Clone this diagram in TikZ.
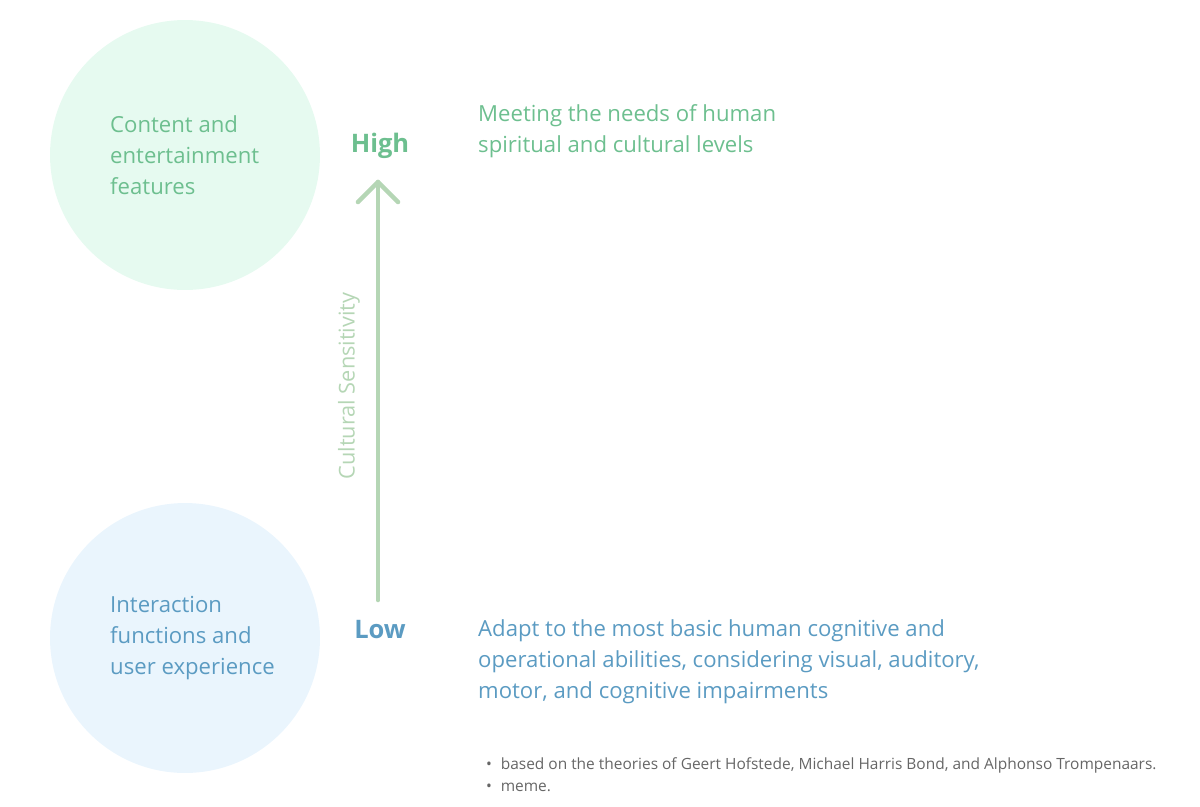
\documentclass[tikz,border=0pt]{standalone}
\usepackage{fontspec}
\setmainfont{Open Sans}
\usetikzlibrary{positioning,arrows,calc}
\definecolor{mint}{HTML}{E6FAF0}
\definecolor{skyl}{HTML}{EAF5FD}
\definecolor{grn}{HTML}{6DBF8F}
\definecolor{blu}{HTML}{5B9BC2}
\definecolor{sage}{HTML}{B5D6B5}
\tikzset{
  bub/.style={circle, minimum size=5.4cm, inner sep=0pt},
  ctxt/.style={align=left, anchor=west, font=\fontsize{12.6}{17.6}\selectfont},
  lvl/.style={font=\fontsize{14.5}{16}\selectfont\bfseries},
  note/.style={align=left, anchor=west, font=\fontsize{8.8}{12.5}\selectfont, text=black!60}
}
\begin{document}
\begin{tikzpicture}[x=0.02cm,y=-0.02cm]
	\useasboundingbox (0,0) rectangle (1200,806);
	\node[bub, fill=mint] (top) at (185,155) {};
	\node[bub, fill=skyl] (bot) at (185,638) {};
	\node[ctxt, text=grn] (topt) at (104,155) {Content and\\entertainment\\features};
	\node[ctxt, text=blu] (bott) at (104,638) {Interaction\\functions and\\user experience};
	%
	\node[lvl, text=grn] (high) at (380,146) {High};
	\node[lvl, text=blu] (low) at (380,630) {Low};
	\coordinate (arrtop) at (378,182);
	\coordinate (arrbot) at (378,600);
	\draw[sage, line width=2.6pt, line cap=round, line join=round] (arrbot) -- (arrtop);
	\draw[sage, line width=2.6pt, line cap=round, line join=round] ($(arrtop)+(-20,20)$) -- (arrtop) -- ($(arrtop)+(20,20)$);
	\node[text=sage, rotate=90, font=\fontsize{12.4}{14}\selectfont] (axis) at (349,386) {Cultural Sensitivity};
	%
	\node[ctxt, text=grn] (hight) at (472,131) {Meeting the needs of human\\spiritual and cultural levels};
	\node[ctxt, text=blu] (lowt) at (472,662) {Adapt to the most basic human cognitive and\\operational abilities, considering visual, auditory,\\motor, and cognitive impairments};
	\node[note] (notes) at (480,775) {\textbullet\hspace{5pt}based on the theories of Geert Hofstede, Michael Harris Bond, and Alphonso Trompenaars.\\\textbullet\hspace{5pt}meme.};
\end{tikzpicture}
\end{document}
